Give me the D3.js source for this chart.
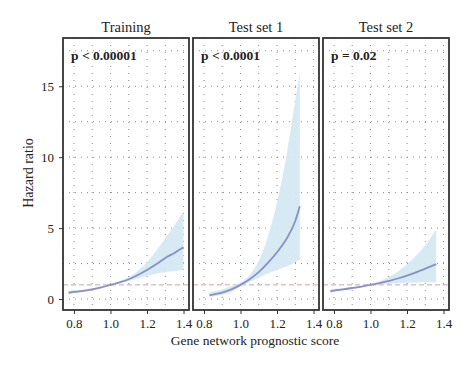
<!DOCTYPE html>
<html><head><meta charset="utf-8">
<script src="https://cdn.jsdelivr.net/npm/d3@7"></script>
<style>body{margin:0;background:#fff}svg{display:block}text{font-family:"Liberation Serif","Times New Roman",serif;fill:#222}</style>
</head><body><svg id="c" width="474" height="372"></svg>
<script>
const panelTitles = ["Training", "Test set 1", "Test set 2"];
const pLabels = ["p < 0.00001", "p < 0.0001", "p = 0.02"];
const xTicks = [0.8, 1.0, 1.2, 1.4];
const yTicks = [0, 5, 10, 15];

const trainX = [0.77,0.80,0.85,0.90,0.95,1.00,1.05,1.10,1.15,1.20,1.25,1.30,1.35,1.40];
const trainHR = [0.45,0.50,0.58,0.68,0.82,1.00,1.18,1.40,1.70,2.05,2.45,2.90,3.25,3.65];
const trainLo = [0.36,0.41,0.50,0.61,0.77,0.95,1.10,1.27,1.45,1.62,1.78,1.90,1.98,2.05];
const trainHi = [0.58,0.62,0.68,0.76,0.88,1.05,1.27,1.55,2.00,2.60,3.40,4.30,5.20,6.20];

const test1X = [0.83,0.85,0.90,0.95,1.00,1.05,1.10,1.15,1.20,1.25,1.30,1.325];
const test1HR = [0.28,0.32,0.45,0.68,1.00,1.40,1.90,2.55,3.30,4.20,5.50,6.55];
const test1Lo = [0.15,0.18,0.28,0.50,0.90,1.20,1.50,1.80,2.05,2.30,2.60,2.75];
const test1Hi = [0.50,0.55,0.70,0.92,1.15,1.70,2.70,4.40,6.80,10.0,14.0,16.0];

const test2X = [0.78,0.80,0.85,0.90,0.95,1.00,1.05,1.10,1.15,1.20,1.25,1.30,1.36];
const test2HR = [0.55,0.60,0.68,0.78,0.88,1.00,1.12,1.28,1.45,1.65,1.88,2.15,2.46];
const test2Lo = [0.45,0.50,0.60,0.72,0.84,0.96,1.02,1.08,1.12,1.15,1.17,1.18,1.20];
const test2Hi = [0.68,0.72,0.78,0.85,0.93,1.05,1.25,1.55,1.95,2.45,3.05,3.80,4.90];

const seriesX = [trainX, test1X, test2X];
const seriesHR = [trainHR, test1HR, test2HR];
const seriesLo = [trainLo, test1Lo, test2Lo];
const seriesHi = [trainHi, test1Hi, test2Hi];

const svg = d3.select("#c");
const panelLeft = [63, 193, 323];
const pw = 126, pTop = 38, pBottom = 310;

const y = d3.scaleLinear().domain([-0.77, 18.4]).range([pBottom, pTop]);
const gridX = d3.range(0.8, 1.401, 0.1);
const gridY = d3.range(0, 17.6, 2.5);

panelTitles.forEach((title, i) => {
  const L = panelLeft[i];
  const x = d3.scaleLinear().domain([0.74, 1.43]).range([L, L + pw]);
  const g = svg.append("g");
  g.selectAll(".gx").data(gridX).join("line")
    .attr("x1", d => x(d)).attr("x2", d => x(d)).attr("y1", pTop).attr("y2", pBottom)
    .attr("stroke", "#888").attr("stroke-width", 1).attr("stroke-dasharray", "1,6");
  g.selectAll(".gy").data(gridY).join("line")
    .attr("y1", d => y(d)).attr("y2", d => y(d)).attr("x1", L).attr("x2", L + pw)
    .attr("stroke", "#888").attr("stroke-width", 1).attr("stroke-dasharray", "1,5");
  g.append("line").attr("x1", L).attr("x2", L + pw).attr("y1", y(1)).attr("y2", y(1))
    .attr("stroke", "#c4a8a8").attr("stroke-width", 1).attr("stroke-dasharray", "5,3");
  const xs = seriesX[i];
  const band = d3.area().x((d, j) => x(xs[j])).y0((d, j) => y(seriesLo[i][j])).y1((d, j) => y(seriesHi[i][j])).curve(d3.curveMonotoneX);
  g.append("path").datum(xs).attr("d", band).attr("fill", "#d5e9f3").attr("opacity", 0.95);
  const line = d3.line().x((d, j) => x(xs[j])).y((d, j) => y(seriesHR[i][j])).curve(d3.curveMonotoneX);
  g.append("path").datum(xs).attr("d", line).attr("fill", "none").attr("stroke", "#8a8fc6").attr("stroke-width", 1.8);
  g.append("rect").attr("x", L).attr("y", pTop).attr("width", pw).attr("height", pBottom - pTop)
    .attr("fill", "none").attr("stroke", "#333").attr("stroke-width", 1.8);
  const xa = svg.append("g").attr("transform", `translate(0,${pBottom})`)
    .call(d3.axisBottom(x).tickValues(xTicks).tickFormat(d3.format(".1f")).tickSize(4).tickPadding(5));
  xa.select(".domain").remove();
  xa.selectAll("line").attr("stroke", "#333");
  xa.selectAll("text").attr("font-size", 13).attr("fill", "#222").style("font-family", '"Liberation Serif",serif');
  svg.append("text").attr("x", L + pw / 2).attr("y", 32).attr("text-anchor", "middle")
    .attr("font-size", 14.5).text(title);
  svg.append("text").attr("x", L + 8).attr("y", 60).attr("font-size", 13.5).attr("font-weight", "bold").text(pLabels[i]);
});

const ya = svg.append("g").attr("transform", `translate(63,0)`)
  .call(d3.axisLeft(y).tickValues(yTicks).tickSize(4).tickPadding(5));
ya.select(".domain").remove();
ya.selectAll("line").attr("stroke", "#333");
ya.selectAll("text").attr("font-size", 13).attr("fill", "#222").style("font-family", '"Liberation Serif",serif');

svg.append("text").attr("transform", "translate(33,173) rotate(-90)").attr("text-anchor", "middle")
  .attr("font-size", 14).text("Hazard ratio");
svg.append("text").attr("x", 255).attr("y", 345).attr("text-anchor", "middle")
  .attr("font-size", 13.5).text("Gene network prognostic score");
</script></body></html>
